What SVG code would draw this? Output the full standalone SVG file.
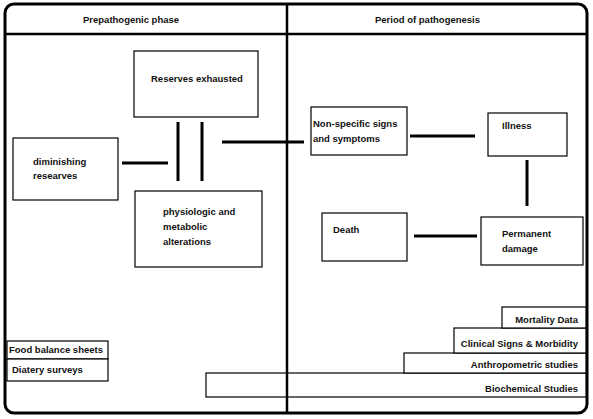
<svg xmlns="http://www.w3.org/2000/svg" width="593" height="419" viewBox="0 0 593 419">
<style>
  text { font-family: "Liberation Sans", Arial, sans-serif; font-size: 9.5px; font-weight: bold; fill: #111; }
  .box { fill: #fff; stroke: #000; stroke-width: 1.2; }
  .frame { fill: none; stroke: #000; stroke-width: 3; }
  .conn { stroke: #000; stroke-width: 3; fill: none; }
  .r { text-anchor: end; }
</style>
<rect width="593" height="419" fill="#fff"/>
<g id="frame">
  <rect class="frame" x="5" y="4" width="582" height="409" rx="9" ry="9"/>
  <line x1="5" y1="34" x2="587" y2="34" stroke="#000" stroke-width="2.5"/>
  <text x="83" y="23">Prepathogenic phase</text>
  <text x="375" y="23">Period of pathogenesis</text>
</g>
<g id="bars">
  <g id="biochemical"><rect class="box" x="206" y="373" width="380" height="24"/><text class="r" x="578" y="392">Biochemical Studies</text></g>
  <g id="anthropometric"><rect class="box" x="404" y="353" width="182" height="20"/><text class="r" x="578" y="368">Anthropometric studies</text></g>
  <g id="clinical"><rect class="box" x="454" y="328" width="132" height="25"/><text class="r" x="578" y="347">Clinical Signs &amp; Morbidity</text></g>
  <g id="mortality"><rect class="box" x="502" y="307" width="84" height="21"/><text class="r" x="578" y="323">Mortality Data</text></g>
  <g id="food"><rect class="box" x="7" y="341" width="101" height="18"/><text x="9" y="353">Food balance sheets</text></g>
  <g id="diatery"><rect class="box" x="7" y="359" width="101" height="22"/><text x="12" y="373">Diatery surveys</text></g>
</g>
<line x1="287" y1="4" x2="287" y2="413" stroke="#000" stroke-width="2.5"/>
<g id="n-reserves"><rect class="box" x="134" y="51" width="124" height="66"/><text x="151" y="82">Reserves exhausted</text></g>
<g id="n-diminishing"><rect class="box" x="13" y="138" width="105" height="62"/><text x="33" y="165">diminishing</text><text x="33" y="179">researves</text></g>
<g id="n-physio"><rect class="box" x="135" y="191" width="127" height="76"/><text x="163" y="215">physiologic and</text><text x="163" y="230">metabolic</text><text x="163" y="245">alterations</text></g>
<g id="n-nonspecific"><rect class="box" x="311" y="107" width="96" height="48"/><text x="313" y="127">Non-specific signs</text><text x="313" y="142">and symptoms</text></g>
<g id="n-illness"><rect class="box" x="488" y="113" width="79" height="43"/><text x="502" y="129">Illness</text></g>
<g id="n-permanent"><rect class="box" x="481" y="217" width="102" height="48"/><text x="502" y="237">Permanent</text><text x="502" y="252">damage</text></g>
<g id="n-death"><rect class="box" x="322" y="213" width="85" height="48"/><text x="333" y="233">Death</text></g>
<g id="connectors">
  <line class="conn" x1="178" y1="122" x2="178" y2="181"/>
  <line class="conn" x1="202" y1="122" x2="202" y2="181"/>
  <line class="conn" x1="122" y1="163" x2="168" y2="163"/>
  <line class="conn" x1="222" y1="142" x2="304" y2="142"/>
  <line class="conn" x1="410" y1="136" x2="475" y2="136"/>
  <line class="conn" x1="527" y1="160" x2="527" y2="206"/>
  <line class="conn" x1="414" y1="236" x2="477" y2="236"/>
</g>
</svg>
